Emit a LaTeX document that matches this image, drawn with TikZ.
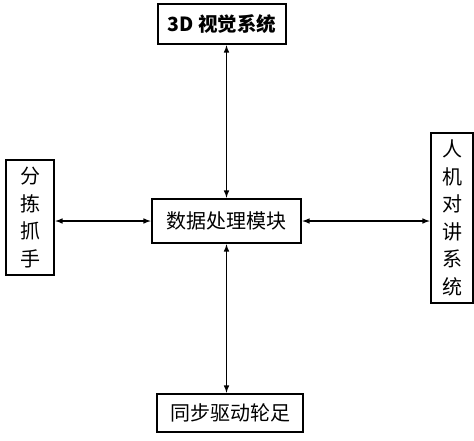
\documentclass[tikz,border=0pt]{standalone}
\usepackage{fontspec}
\setmainfont{Noto Sans CJK SC}
\begin{document}
\begin{tikzpicture}[x=1pt,y=-1pt,>=latex]
        \tikzstyle{box}=[draw,line width=2.5pt,inner sep=0pt,font=\fontsize{20}{27.5}\selectfont]
        \tikzstyle{link}=[<->,line width=1.5pt]
        \useasboundingbox (0,0) rectangle (474,440);
        \node[box,minimum width=128pt,minimum height=40pt,font=\fontsize{19.5}{23}\selectfont\bfseries] (vision) at (222,24) {3D 视觉系统};
        \node[box,minimum width=149pt,minimum height=44pt] (proc) at (226.5,221) {数据处理模块};
        \node[box,minimum width=146pt,minimum height=38pt] (drive) at (230,413) {同步驱动轮足};
        \node[box,minimum width=48pt,minimum height=115pt,align=center] (grip) at (30,217.5) {分\\拣\\抓\\手};
        \node[box,minimum width=42pt,minimum height=170pt,align=center] (talk) at (452,218) {人\\机\\对\\讲\\系\\统};
    \draw[link] (proc.north) -- (proc.north |- vision.south);
    \draw[link] (proc.south) -- (proc.south |- drive.north);
    \draw[link] (proc.west) -- (proc.west -| grip.east);
    \draw[link] (proc.east) -- (proc.east -| talk.west);
    \end{tikzpicture}
\end{document}
